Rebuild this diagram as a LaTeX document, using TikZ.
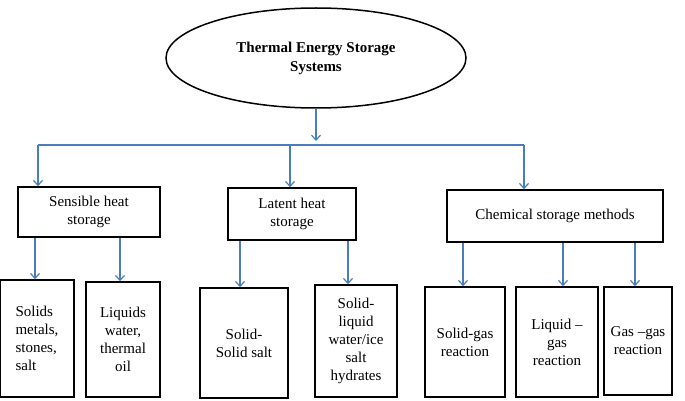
\documentclass[tikz,border=0pt]{standalone}
\usepackage{fontspec}
\setmainfont{Liberation Serif}
\usetikzlibrary{shapes.geometric,arrows.meta}
\definecolor{ab}{HTML}{4A7EBB}
\begin{document}
\begin{tikzpicture}[x=1pt,y=-1pt,
 box/.style={draw,line width=1.5pt,align=center,font=\fontsize{15}{18}\selectfont,inner sep=2pt},
 arr/.style={draw=ab,line width=1.2pt,-{Straight Barb[length=5pt,width=9pt]}},
 ln/.style={draw=ab,line width=1.2pt}]
\useasboundingbox (0,0) rectangle (685,401);
\node[ellipse,draw,line width=1.5pt,minimum width=300pt,minimum height=100pt,align=center,font=\bfseries\fontsize{15}{19}\selectfont] (root) at (316,58) {Thermal Energy Storage\\Systems};
\node[box,minimum width=142pt,minimum height=50pt] (s) at (89,212) {Sensible heat\\storage};
\node[box,minimum width=128pt,minimum height=52pt] (l) at (292,214) {Latent heat\\storage};
\node[box,minimum width=216pt,minimum height=52pt] (c) at (555,216) {Chemical storage methods};
\node[box,minimum width=74pt,minimum height=117pt,align=left] (s1) at (37,338.5) {Solids\\metals,\\stones,\\salt};
\node[box,minimum width=74pt,minimum height=115pt] (s2) at (123,339.5) {Liquids\\water,\\thermal\\oil};
\node[box,minimum width=88pt,minimum height=110pt] (l1) at (244,343) {Solid-\\Solid salt};
\node[box,minimum width=82pt,minimum height=112pt] (l2) at (356,341) {Solid-\\liquid\\water/ice\\salt\\hydrates};
\node[box,minimum width=80pt,minimum height=110pt] (c1) at (465,342) {Solid-gas\\reaction};
\node[box,minimum width=82pt,minimum height=110pt] (c2) at (557,342) {Liquid –\\gas\\reaction};
\node[box,minimum width=68pt,minimum height=108pt] (c3) at (638,341) {Gas –gas\\reaction};
\coordinate (jl) at (38,145);
\coordinate (jr) at (524,145);
\draw[arr] (root.south) -- (316,141);
\draw[ln] (jl) -- (jr);
\draw[arr] (jl) -- (jl |- s.north);
\draw[arr] (290,145) -- (290,145 |- l.north);
\draw[arr] (jr) -- (jr |- c.north);
\draw[arr] (35,0 |- s.south) -- (35,0 |- s1.north);
\draw[arr] (120,0 |- s.south) -- (120,0 |- s2.north);
\draw[arr] (240,0 |- l.south) -- (240,0 |- l1.north);
\draw[arr] (348,0 |- l.south) -- (348,0 |- l2.north);
\draw[arr] (463,0 |- c.south) -- (463,0 |- c1.north);
\draw[arr] (563,0 |- c.south) -- (563,0 |- c2.north);
\draw[arr] (635,0 |- c.south) -- (635,0 |- c3.north);
\end{tikzpicture}
\end{document}
